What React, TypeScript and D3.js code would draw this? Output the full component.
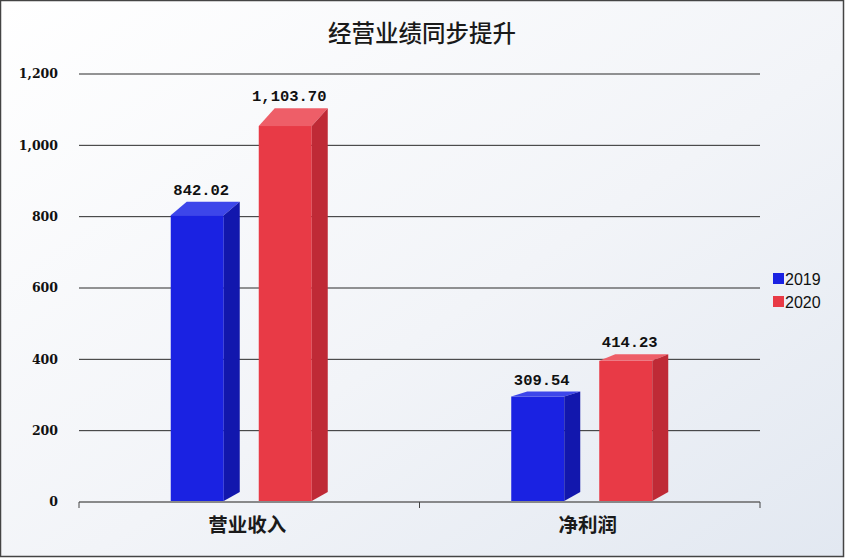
import * as d3 from "d3";
import React from "react";

const categories = ["营业收入", "净利润"];
const seriesNames = ["2019", "2020"];
const values2019 = [842.02, 309.54];
const values2020 = [1103.7, 414.23];
const yTicks = [0, 200, 400, 600, 800, 1000, 1200];

const W = 848;
const H = 558;
const plot = { left: 79, right: 760, top: 74, bottom: 502 };

const faceColors = [
  { front: "#1a22e2", top: "#3d46ea", side: "#1217ad" },
  { front: "#e83a46", top: "#ee5e68", side: "#bf2a36" },
];

const App: React.FC = () => {
  const y = d3.scaleLinear().domain([0, 1200]).range([plot.bottom, plot.top]);
  const x0 = d3.scaleBand<string>().domain(categories).range([plot.left, plot.right]);
  const depthX = 16;
  const innerW = 141;
  const x1 = d3
    .scaleBand<string>()
    .domain(seriesNames)
    .range([0, innerW])
    .paddingInner(35 / 88);
  const groupOffset = (x0.bandwidth() - innerW - depthX) / 2;
  const fmt = d3.format(",.2f");
  const tickFmt = d3.format(",");

  const series = [values2019, values2020];

  return (
    <svg
      width={W}
      height={H}
      style={{ position: "fixed", left: 0, top: 0, display: "block" }}
    >
      <defs>
        <linearGradient id="bg" x1="0" y1="0" x2="1" y2="1">
          <stop offset="0%" stopColor="#ffffff" />
          <stop offset="55%" stopColor="#f2f4f8" />
          <stop offset="100%" stopColor="#e2e8f1" />
        </linearGradient>
      </defs>
      <rect x={0.5} y={0.5} width={W - 5} height={H - 2} fill="url(#bg)" stroke="#444" strokeWidth={1.5} />

      <text
        x={W / 2 - 2}
        y={42}
        textAnchor="middle"
        fontFamily="Noto Sans CJK SC"
        fontWeight={500}
        fontSize={23.5}
        fill="#1a1a1a"
      >
        经营业绩同步提升
      </text>

      {/* grid + y labels */}
      {yTicks.map((t) => (
        <g key={t}>
          {t > 0 && (
            <line x1={plot.left} x2={plot.right} y1={y(t)} y2={y(t)} stroke="#2a2a2a" strokeWidth={1} />
          )}
          <text
            x={58}
            y={y(t)}
            dy="0.35em"
            textAnchor="end"
            fontFamily="DejaVu Serif"
            fontWeight="bold"
            fontSize={12.5}
            fill="#111"
          >
            {tickFmt(t)}
          </text>
        </g>
      ))}

      {/* x axis */}
      <line x1={plot.left} x2={plot.right} y1={plot.bottom} y2={plot.bottom} stroke="#666" strokeWidth={1.5} />
      {[plot.left, plot.left + x0.step(), plot.right].map((tx, i) => (
        <line key={i} x1={tx} x2={tx} y1={plot.bottom} y2={plot.bottom + 6} stroke="#444" strokeWidth={1} />
      ))}
      {categories.map((c) => (
        <text
          key={c}
          x={(x0(c) as number) + x0.bandwidth() / 2 - 2}
          y={532}
          textAnchor="middle"
          fontFamily="Noto Sans CJK SC"
          fontWeight={700}
          fontSize={19.5}
          fill="#1a1a1a"
        >
          {c}
        </text>
      ))}

      {/* bars */}
      {categories.map((c, ci) =>
        seriesNames.map((s, si) => {
          const v = series[si][ci];
          const fl = (x0(c) as number) + groupOffset + (x1(s) as number);
          const fr = fl + x1.bandwidth();
          const vy = y(v);
          const base = plot.bottom - 1;
          const dy = 0.045 * (base - vy);
          const dyB = 9;
          const col = faceColors[si];
          return (
            <g key={c + s}>
              <rect x={fl} y={vy + dy} width={fr - fl} height={base - vy - dy} fill={col.front} />
              <polygon
                points={`${fl},${vy + dy} ${fr},${vy + dy} ${fr + depthX},${vy} ${fl + depthX},${vy}`}
                fill={col.top}
              />
              <polygon
                points={`${fr},${vy + dy} ${fr + depthX},${vy} ${fr + depthX},${base - dyB} ${fr},${base}`}
                fill={col.side}
              />
              <text
                x={(fl + fr) / 2 + 4}
                y={vy - 7}
                textAnchor="middle"
                fontFamily="Liberation Mono"
                fontSize={15.5}
                fontWeight="bold"
                fill="#111"
              >
                {fmt(v)}
              </text>
            </g>
          );
        })
      )}

      {/* legend */}
      {seriesNames.map((s, i) => (
        <g key={s} transform={`translate(773, ${273 + i * 23})`}>
          <rect x={0} y={0} width={11} height={11} fill={faceColors[i].front} />
          <text x={12} y={11.5} fontFamily="Liberation Sans" fontSize={16} fill="#111">
            {s}
          </text>
        </g>
      ))}
    </svg>
  );
};

export default App;
